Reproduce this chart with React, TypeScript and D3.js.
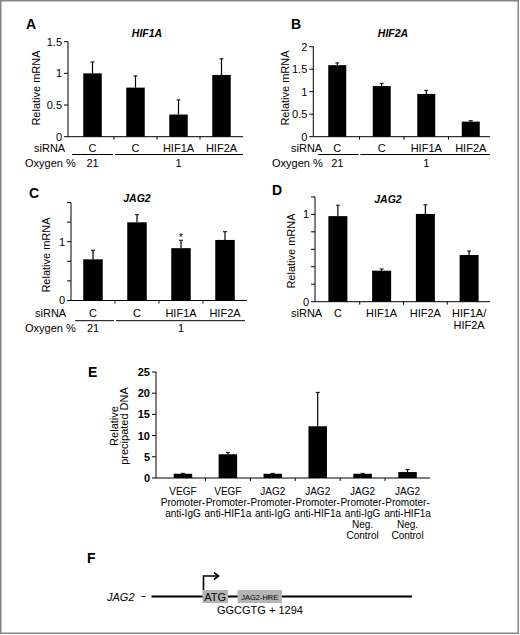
import React from "react";
import * as d3 from "d3";

const FONT = "'Liberation Sans', Arial, Helvetica, sans-serif";

// ---------- data ----------
const abcCats = ["C", "C", "HIF1A", "HIF2A"];
const oxygenLabels = ["21", "1"];
const oxygenGroups = [[0, 0], [1, 3]];

const aValues = [1.0, 0.775, 0.35, 0.975];
const aErrors = [0.18, 0.185, 0.23, 0.255];
const aTicks = [0, 0.5, 1, 1.5];
const aTickLabels = ["0", "0.5", "1", "1.5"];

const bValues = [1.59, 1.125, 0.95, 0.335];
const bErrors = [0.05, 0.06, 0.08, 0.02];
const bTicks = [0, 0.5, 1, 1.5, 2];
const bTickLabels = ["0", "0.5", "1", "1.5", "2"];

const cValues = [0.7, 1.33, 0.89, 1.03];
const cErrors = [0.155, 0.13, 0.135, 0.14];
const cTicks = [0, 1 / 3, 2 / 3, 1, 4 / 3, 5 / 3];
const cTickLabels = ["0", "", "", "1", "", ""];
const cStars = ["", "", "*", ""];

const dCats = [["C"], ["HIF1A"], ["HIF2A"], ["HIF1A/", "HIF2A"]];
const dValues = [0.98, 0.355, 1.005, 0.535];
const dErrors = [0.125, 0.02, 0.105, 0.045];
const dTicks = [0, 0.2, 0.4, 0.6, 0.8, 1.0, 1.2];
const dTickLabels = ["0", "", "", "", "", "1", ""];

const eCats = [
  ["VEGF", "Promoter-", "anti-IgG"],
  ["VEGF", "Promoter-", "anti-HIF1a"],
  ["JAG2", "Promoter-", "anti-IgG"],
  ["JAG2", "Promoter-", "anti-HIF1a"],
  ["JAG2", "Promoter-", "anti-IgG", "Neg.", "Control"],
  ["JAG2", "Promoter-", "anti-HIF1a", "Neg.", "Control"],
];
const eValues = [1.0, 5.6, 1.0, 12.2, 1.0, 1.4];
const eErrors = [0.1, 0.45, 0.1, 8.0, 0.1, 0.6];
const eTicks = [0, 5, 10, 15, 20, 25];

type PanelProps = {
  letter: string;
  letterX: number;
  letterY: number;
  title?: string;
  titleX?: number;
  titleY?: number;
  axisX: number;
  axisEnd: number;
  bandRange: [number, number];
  y0: number;
  yTopPx: number;
  yMax: number;
  ticks: number[];
  tickLabels: string[];
  tickBold?: boolean;
  values: number[];
  errors: number[];
  barWidth: number;
  catLines: string[][];
  catBaseline: number;
  catLineH: number;
  catSize: number;
  yLabelLines: string[];
  yLabelXs: number[];
  yLabelCy: number;
  stars?: string[];
};

function BarPanel(p: PanelProps) {
  const idx = p.values.map((_, i) => i);
  const x = d3.scaleBand<number>().domain(idx).range(p.bandRange).padding(0);
  const y = d3.scaleLinear().domain([0, p.yMax]).range([p.y0, p.yTopPx]);
  const step = x.step();
  const bounds = d3.range(1, idx.length).map((i) => p.bandRange[0] + i * step);
  const cx = (i: number) => (x(i) as number) + x.bandwidth() / 2;
  return (
    <g fontFamily={FONT}>
      <text x={p.letterX} y={p.letterY} fontSize={14} fontWeight="bold">
        {p.letter}
      </text>
      {p.title && (
        <text
          x={p.titleX}
          y={p.titleY}
          fontSize={10.5}
          fontWeight="bold"
          fontStyle="italic"
          textAnchor="middle"
        >
          {p.title}
        </text>
      )}
      {/* y axis */}
      <line x1={p.axisX} x2={p.axisX} y1={y(p.yMax)} y2={p.y0} stroke="#000" strokeWidth={1} />
      {p.ticks.map((t, i) => (
        <g key={"t" + i}>
          <line x1={p.axisX - 4} x2={p.axisX} y1={y(t)} y2={y(t)} stroke="#000" strokeWidth={1} />
          {p.tickLabels[i] && (
            <text
              x={p.axisX - 6}
              y={y(t)}
              dy="0.36em"
              fontSize={11}
              fontWeight={p.tickBold ? "bold" : "normal"}
              textAnchor="end"
            >
              {p.tickLabels[i]}
            </text>
          )}
        </g>
      ))}
      {/* x axis */}
      <line x1={p.axisX} x2={p.axisEnd} y1={p.y0} y2={p.y0} stroke="#000" strokeWidth={1} />
      {bounds.map((b, i) => (
        <line key={"b" + i} x1={b} x2={b} y1={p.y0} y2={p.y0 + 3} stroke="#000" strokeWidth={1} />
      ))}
      {/* bars */}
      {idx.map((i) => (
        <g key={"bar" + i}>
          <line
            x1={cx(i)}
            x2={cx(i)}
            y1={y(p.values[i])}
            y2={y(p.values[i] + p.errors[i])}
            stroke="#000"
            strokeWidth={1.2}
          />
          <line
            x1={cx(i) - 2}
            x2={cx(i) + 2}
            y1={y(p.values[i] + p.errors[i])}
            y2={y(p.values[i] + p.errors[i])}
            stroke="#000"
            strokeWidth={1}
          />
          <rect
            x={cx(i) - p.barWidth / 2}
            y={y(p.values[i])}
            width={p.barWidth}
            height={p.y0 - y(p.values[i])}
            fill="#000"
          />
          {p.stars && p.stars[i] && (
            <text x={cx(i)} y={y(p.values[i] + p.errors[i]) - 2.5} dy="0.3em" fontSize={11} textAnchor="middle">
              {p.stars[i]}
            </text>
          )}
          {p.catLines[i].map((ln, k) => (
            <text
              key={k}
              x={cx(i)}
              y={p.catBaseline + k * p.catLineH}
              fontSize={p.catSize}
              textAnchor="middle"
            >
              {ln}
            </text>
          ))}
        </g>
      ))}
      {/* y label */}
      {p.yLabelLines.map((ln, k) => (
        <text
          key={"yl" + k}
          transform={`translate(${p.yLabelXs[k]},${p.yLabelCy}) rotate(-90)`}
          fontSize={11}
          textAnchor="middle"
        >
          {ln}
        </text>
      ))}
    </g>
  );
}

function SiRnaRows(props: {
  bandRange: [number, number];
  n: number;
  siX: number;
  baseline: number;
  oxygen: boolean;
  lineY: number;
  oxBaseline: number;
  oxX: number;
  lineStart: number;
  lineEnd: number;
}) {
  const x = d3.scaleBand<number>().domain(d3.range(props.n)).range(props.bandRange);
  const step = x.step();
  return (
    <g fontFamily={FONT} fontSize={11}>
      <text x={props.siX} y={props.baseline}>siRNA</text>
      {props.oxygen && (
        <>
          {oxygenGroups.map((g, k) => {
            const xs = k === 0 ? props.lineStart : (x(g[0]) as number) + 1;
            const xe = k === oxygenGroups.length - 1 ? props.lineEnd : (x(g[1]) as number) + step - 1;
            const mid = ((x(g[0]) as number) + (x(g[1]) as number) + step) / 2;
            return (
              <g key={k}>
                <line x1={xs} x2={xe} y1={props.lineY} y2={props.lineY} stroke="#000" strokeWidth={1} />
                <text x={mid} y={props.oxBaseline} textAnchor="middle">
                  {oxygenLabels[k]}
                </text>
              </g>
            );
          })}
          <text x={props.oxX} y={props.oxBaseline}>Oxygen %</text>
        </>
      )}
    </g>
  );
}

function GeneMap() {
  return (
    <g fontFamily={FONT}>
      <text x={87} y={563} fontSize={14} fontWeight="bold">F</text>
      <text x={107} y={601} fontSize={11} fontStyle="italic">JAG2</text>
      <line x1={141.5} x2={145.5} y1={596.5} y2={596.5} stroke="#000" strokeWidth={1} />
      <line x1={151.5} x2={412} y1={596.5} y2={596.5} stroke="#000" strokeWidth={2} />
      <rect x={202.5} y={590} width={25.5} height={13} fill="#b4b4b4" />
      <text x={215.2} y={600.5} fontSize={11} textAnchor="middle">ATG</text>
      <rect x={237.5} y={590} width={44.5} height={13} fill="#b4b4b4" />
      <text x={259.7} y={599.5} fontSize={7.5} textAnchor="middle">JAG2-HRE</text>
      <path d="M203.5,590 V576 H218" fill="none" stroke="#000" strokeWidth={1.6} />
      <path d="M214,572.5 L218.5,576 L214,579.5" fill="none" stroke="#000" strokeWidth={1.6} />
      <text x={217} y={614} fontSize={11}>GGCGTG + 1294</text>
    </g>
  );
}

export default function App() {
  return (
    <svg
      width={520}
      height={635}
      viewBox="0 0 520 635"
      style={{ position: "absolute", left: 0, top: 0, background: "#fff" }}
    >
      <rect x={0} y={0} width={520} height={635} fill="#fff" />
      <rect x={0.75} y={0.75} width={517.5} height={632.5} fill="none" stroke="#858585" strokeWidth={1.5} />

      {/* Panel A */}
      <BarPanel
        letter="A" letterX={26} letterY={29}
        title="HIF1A" titleX={147} titleY={37}
        axisX={68} axisEnd={243} bandRange={[71, 243]}
        y0={136.7} yTopPx={41.7} yMax={1.5}
        ticks={aTicks} tickLabels={aTickLabels}
        values={aValues} errors={aErrors} barWidth={18.5}
        catLines={abcCats.map((c) => [c])} catBaseline={152} catLineH={12} catSize={11}
        yLabelLines={["Relative mRNA"]} yLabelXs={[40]} yLabelCy={88}
      />
      <SiRnaRows bandRange={[71, 243]} n={4} siX={34} baseline={152} oxygen lineY={154.5}
        oxBaseline={167} oxX={25} lineStart={72} lineEnd={243} />

      {/* Panel B */}
      <BarPanel
        letter="B" letterX={291} letterY={29}
        title="HIF2A" titleX={393} titleY={37}
        axisX={313.3} axisEnd={490} bandRange={[315, 493]}
        y0={136.7} yTopPx={46.7} yMax={2}
        ticks={bTicks} tickLabels={bTickLabels}
        values={bValues} errors={bErrors} barWidth={18}
        catLines={abcCats.map((c) => [c])} catBaseline={152} catLineH={12} catSize={11}
        yLabelLines={["Relative mRNA"]} yLabelXs={[288.5]} yLabelCy={88}
      />
      <SiRnaRows bandRange={[315, 493]} n={4} siX={291} baseline={152} oxygen lineY={154.5}
        oxBaseline={167} oxX={272} lineStart={318} lineEnd={490} />

      {/* Panel C */}
      <BarPanel
        letter="C" letterX={29} letterY={198}
        title="JAG2" titleX={137} titleY={202}
        axisX={71} axisEnd={247} bandRange={[71, 247]}
        y0={300.5} yTopPx={202.5} yMax={5 / 3}
        ticks={cTicks} tickLabels={cTickLabels}
        values={cValues} errors={cErrors} barWidth={19.5}
        catLines={abcCats.map((c) => [c])} catBaseline={317} catLineH={12} catSize={11}
        yLabelLines={["Relative mRNA"]} yLabelXs={[50]} yLabelCy={255}
        stars={cStars}
      />
      <SiRnaRows bandRange={[71, 247]} n={4} siX={35} baseline={317} oxygen lineY={320.7}
        oxBaseline={332} oxX={25} lineStart={75} lineEnd={245} />

      {/* Panel D */}
      <BarPanel
        letter="D" letterX={272} letterY={195}
        title="JAG2" titleX={388} titleY={203}
        axisX={315} axisEnd={490} bandRange={[316, 491]}
        y0={301.7} yTopPx={196.9} yMax={1.2}
        ticks={dTicks} tickLabels={dTickLabels}
        values={dValues} errors={dErrors} barWidth={19}
        catLines={dCats} catBaseline={316.5} catLineH={12.5} catSize={11}
        yLabelLines={["Relative mRNA"]} yLabelXs={[295]} yLabelCy={251}
      />
      <SiRnaRows bandRange={[316, 491]} n={4} siX={291} baseline={316.5} oxygen={false} lineY={0}
        oxBaseline={0} oxX={0} lineStart={0} lineEnd={0} />

      {/* Panel E */}
      <BarPanel
        letter="E" letterX={88} letterY={377}
        axisX={156} axisEnd={430} bandRange={[160.5, 430]}
        y0={478} yTopPx={372} yMax={25}
        ticks={eTicks} tickLabels={eTicks.map(String)} tickBold
        values={eValues} errors={eErrors} barWidth={18.5}
        catLines={eCats} catBaseline={495} catLineH={11} catSize={10}
        yLabelLines={["Relative", "precipated DNA"]} yLabelXs={[117.5, 128]} yLabelCy={426}
      />

      {/* Panel F */}
      <GeneMap />
    </svg>
  );
}
